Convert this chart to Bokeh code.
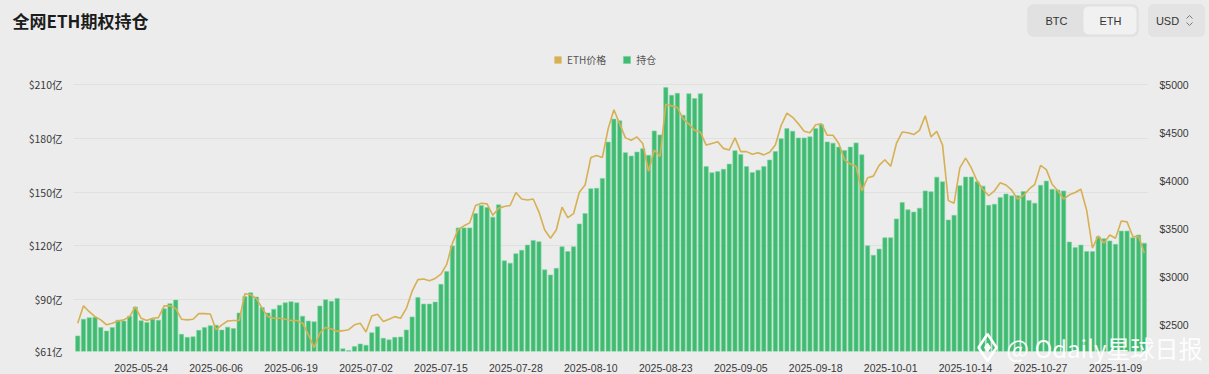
import pandas as pd
from bokeh.plotting import figure
from bokeh.models import (Range1d, LinearAxis, FixedTicker, PrintfTickFormatter,
                          DatetimeTickFormatter, Legend, LegendItem, Label, BoxAnnotation,
                          ColumnDataSource)
from bokeh.embed import file_html
from bokeh.resources import INLINE

# ---------------- data ----------------
start_date = "2025-05-13"
open_interest = [  # 亿美元
    69.7, 79.0, 79.8, 80.1, 74.4, 72.4, 74.4, 78.5, 78.0, 80.7,
    85.8, 78.2, 77.2, 79.0, 78.5, 84.9, 87.7, 89.7, 70.6, 68.9,
    69.2, 72.8, 74.4, 75.4, 75.7, 73.0, 74.6, 73.8, 82.5, 91.7,
    93.8, 91.4, 85.5, 82.5, 84.6, 86.8, 88.2, 88.8, 88.2, 80.7,
    78.0, 77.6, 86.4, 89.9, 89.0, 90.6, 62.5, 61.5, 63.8, 65.2,
    64.5, 71.5, 74.8, 68.4, 67.5, 68.9, 69.1, 73.0, 80.3, 91.2,
    87.5, 87.5, 88.6, 98.5, 105.7, 119.9, 130.0, 130.0, 130.0, 138.0,
    142.5, 141.4, 136.0, 142.9, 111.6, 110.3, 115.6, 117.5, 120.4, 123.0,
    122.3, 106.6, 103.7, 107.4, 119.5, 116.8, 119.5, 132.2, 138.0, 151.9,
    152.1, 157.6, 177.9, 190.7, 189.8, 172.0, 170.1, 172.3, 174.2, 170.5,
    184.1, 181.9, 208.4, 204.0, 205.1, 192.9, 204.9, 202.2, 204.9, 164.2,
    160.8, 161.4, 162.7, 165.6, 173.1, 171.0, 164.2, 160.9, 162.2, 164.2,
    167.9, 172.6, 179.8, 185.4, 183.9, 180.2, 180.2, 180.8, 185.4, 187.6,
    178.0, 177.3, 175.1, 173.2, 175.1, 177.4, 170.8, 120.0, 114.7, 118.2,
    124.5, 124.5, 135.0, 144.2, 140.1, 138.8, 141.0, 150.6, 150.2, 158.3,
    155.7, 134.4, 137.0, 153.5, 158.4, 158.4, 155.7, 153.3, 142.6, 143.2,
    147.0, 148.9, 147.9, 147.9, 150.3, 145.3, 143.8, 153.8, 156.1, 151.5,
    151.1, 150.6, 122.1, 119.0, 120.4, 116.8, 116.8, 125.0, 124.0, 122.7,
    120.8, 128.2, 128.2, 124.5, 126.0, 121.4,
]
eth_price = [
    2517, 2697, 2636, 2585, 2551, 2500, 2517, 2540, 2551, 2585,
    2687, 2568, 2545, 2568, 2575, 2697, 2697, 2670, 2558, 2551,
    2558, 2616, 2616, 2613, 2449, 2500, 2540, 2545, 2545, 2823,
    2813, 2772, 2670, 2585, 2568, 2568, 2558, 2545, 2545, 2517,
    2398, 2262, 2415, 2473, 2456, 2432, 2439, 2449, 2500, 2517,
    2425, 2592, 2609, 2534, 2558, 2585, 2568, 2670, 2850, 2970,
    2976, 2959, 2983, 3027, 3129, 3350, 3493, 3530, 3561, 3741,
    3765, 3758, 3639, 3714, 3731, 3741, 3877, 3809, 3798, 3809,
    3673, 3486, 3401, 3486, 3724, 3615, 3656, 3880, 3955, 4240,
    4262, 4241, 4540, 4737, 4591, 4445, 4421, 4455, 4387, 4098,
    4319, 4251, 4795, 4778, 4761, 4642, 4591, 4523, 4506, 4370,
    4387, 4404, 4336, 4319, 4445, 4302, 4302, 4275, 4290, 4268,
    4295, 4370, 4574, 4703, 4659, 4591, 4513, 4499, 4581, 4591,
    4472, 4472, 4387, 4217, 4173, 4149, 3894, 4030, 4047, 4159,
    4217, 4149, 4387, 4506, 4499, 4479, 4523, 4676, 4455, 4513,
    4370, 3792, 3765, 4132, 4234, 4132, 3996, 3911, 3843, 3894,
    3979, 3955, 3901, 3809, 3843, 3911, 3962, 4159, 4115, 3962,
    3894, 3809, 3853, 3877, 3911, 3690, 3299, 3425, 3350, 3435,
    3401, 3581, 3571, 3418, 3418, 3248,
]
x_tick_labels = ["2025-05-24", "2025-06-06", "2025-06-19", "2025-07-02", "2025-07-15",
                 "2025-07-28", "2025-08-10", "2025-08-23", "2025-09-05", "2025-09-18",
                 "2025-10-01", "2025-10-14", "2025-10-27", "2025-11-09"]
left_ticks = [61, 90, 120, 150, 180, 210]
right_ticks = [2500, 3000, 3500, 4000, 4500, 5000]
legend_labels = ["ETH价格", "持仓"]
title_text = "全网ETH期权持仓"
coin_buttons = ["BTC", "ETH"]
unit_button = "USD"
watermark = "@ Odaily星球日报"

# ---------------- geometry / styling ----------------
W, H = 1209, 374
FL, FR, FB = 73, 1148, 355          # frame left, right, bottom (canvas px); frame top = 0
Y_TOP_TICK_PX = 85                  # pixel of the top left tick and top right tick
Y_2500_PX = 328
BG = "#ececec"
GREEN = "#3fbc71"
GOLD = "#d6b052"
FONT = "'Liberation Sans', 'Noto Sans CJK SC', sans-serif"
CJK = "'Noto Sans CJK SC', 'Liberation Sans', sans-serif"

px_per_left = (FB - Y_TOP_TICK_PX) / (left_ticks[-1] - left_ticks[0])
left_end = left_ticks[-1] + Y_TOP_TICK_PX / px_per_left
r_per_px = (right_ticks[-1] - right_ticks[0]) / (Y_2500_PX - Y_TOP_TICK_PX)
right_start = right_ticks[0] - (FB - Y_2500_PX) * r_per_px
right_end = right_ticks[-1] + Y_TOP_TICK_PX * r_per_px

DAY = 86400000.0
dates = pd.date_range(start_date, periods=len(open_interest), freq="D")
src = ColumnDataSource(dict(date=dates, oi=open_interest, eth=eth_price))

# ================= main chart =================
x0 = dates[0].value / 1e6 - 0.73 * DAY
x1 = dates[-1].value / 1e6 + 0.72 * DAY
p = figure(width=W, height=H, output_backend="svg", toolbar_location=None,
           x_axis_type="datetime", x_range=Range1d(x0, x1),
           y_range=Range1d(left_ticks[0], left_end),
           min_border_left=FL, min_border_right=W - FR, min_border_top=0,
           min_border_bottom=H - FB)
p.background_fill_color = BG
p.border_fill_color = BG
p.outline_line_color = None
p.extra_y_ranges = {"eth": Range1d(right_start, right_end)}

bars = p.vbar(x="date", top="oi", bottom=left_ticks[0], width=0.74 * DAY, source=src,
              fill_color=GREEN, line_color="#7fd4a2", line_width=0.6)
line = p.line(x="date", y="eth", source=src, y_range_name="eth",
              line_color=GOLD, line_width=1.6)
# zero-height key renderer so the legend shows a gold square for the price line
gold_key = p.vbar(x="date", top=left_ticks[0], bottom=left_ticks[0], width=0.74 * DAY,
                  source=src, fill_color=GOLD, line_color=None)

xa = p.xaxis[0]
xa.ticker = FixedTicker(ticks=[pd.Timestamp(t).value / 1e6 for t in x_tick_labels])
fmt = "%Y-%m-%d"
xa.formatter = DatetimeTickFormatter(days=fmt, months=fmt, years=fmt, hours=fmt,
                                     minutes=fmt, seconds=fmt, milliseconds=fmt,
                                     microseconds=fmt, minsec=fmt, hourmin=fmt)
ya = p.yaxis[0]
ya.ticker = FixedTicker(ticks=left_ticks)
ya.formatter = PrintfTickFormatter(format="$%d亿")
ra = LinearAxis(y_range_name="eth", ticker=FixedTicker(ticks=right_ticks),
                formatter=PrintfTickFormatter(format="$%d"))
p.add_layout(ra, "right")

for ax in [xa, ya, ra]:
    ax.axis_line_color = None
    ax.major_tick_line_color = None
    ax.minor_tick_line_color = None
    ax.major_label_text_font = CJK if ax is ya else FONT
    ax.major_label_text_font_size = "10.5px"
    ax.major_label_text_color = "#383838"
    ax.major_label_standoff = 5
xa.major_label_standoff = 6

p.xgrid.visible = False
p.ygrid.ticker = FixedTicker(ticks=left_ticks[1:])
p.ygrid.grid_line_color = "#e0e0e0"
p.ygrid.grid_line_width = 1

legend = Legend(items=[LegendItem(label=legend_labels[0], renderers=[gold_key]),
                       LegendItem(label=legend_labels[1], renderers=[bars])],
                orientation="horizontal", location=(480, 284),
                background_fill_alpha=0, border_line_color=None,
                label_text_font=CJK, label_text_font_size="10px",
                label_text_color="#555555", glyph_width=9, glyph_height=9,
                label_height=12, label_standoff=5, spacing=16, padding=2, margin=0,
                click_policy="none")
p.add_layout(legend, "center")

# ================= transparent overlay: header + watermark =================
ov = figure(width=W, height=H, output_backend="svg", toolbar_location=None,
            x_range=Range1d(0, W), y_range=Range1d(H, 0), min_border=0,
            styles={"position": "absolute", "left": "0px", "top": "0px"})
ov.axis.visible = False
ov.grid.visible = False
ov.outline_line_color = None
ov.background_fill_alpha = 0
ov.border_fill_alpha = 0

ov.add_layout(BoxAnnotation(left=1027, right=1138, top=4, bottom=36, level="underlay",
                            fill_color="#e1e1e1", fill_alpha=1, line_color="#d9d9d9",
                            line_width=1, border_radius=6))
ov.add_layout(BoxAnnotation(left=1083, right=1136, top=6, bottom=34, level="underlay",
                            fill_color="#f1f1f1", fill_alpha=1, line_color=None,
                            border_radius=5))
ov.add_layout(BoxAnnotation(left=1148, right=1204, top=4, bottom=36, level="underlay",
                            fill_color="#e3e3e3", fill_alpha=1, line_color="#d6d6d6",
                            line_width=1, border_radius=5))
ov.multi_line(xs=[[1186, 1189, 1192], [1186, 1189, 1192]], ys=[[18, 15, 18], [22, 25, 22]],
              line_color="#7a7a7a", line_width=1)
ov.add_layout(Label(x=12, y=20, text=title_text, text_font=CJK, text_font_size="17px",
                    text_font_style="bold", text_color="#1c1c1c", text_baseline="middle",
                    text_align="left"))
for bx, t in zip([1056, 1110, 1167], coin_buttons + [unit_button]):
    ov.add_layout(Label(x=bx, y=20, text=t, text_font=FONT, text_font_size="11px",
                        text_color="#333333", text_align="center", text_baseline="middle"))

ov.scatter(x=[987], y=[347], marker="diamond", size=27, fill_color=None,
           line_color="white", line_width=2.5)
ov.scatter(x=[987], y=[347], marker="diamond", size=9, fill_color="white",
           line_color="white")
ov.add_layout(Label(x=1202, y=347, text=watermark, text_font=CJK, text_font_size="24px",
                    text_color="white", text_alpha=0.95, text_baseline="middle",
                    text_align="right"))

html = file_html([p, ov], INLINE)
html = html.replace("<head>", "<head><style>html,body{background:%s;}</style>" % BG, 1)
open("out.html", "w").write(html)
